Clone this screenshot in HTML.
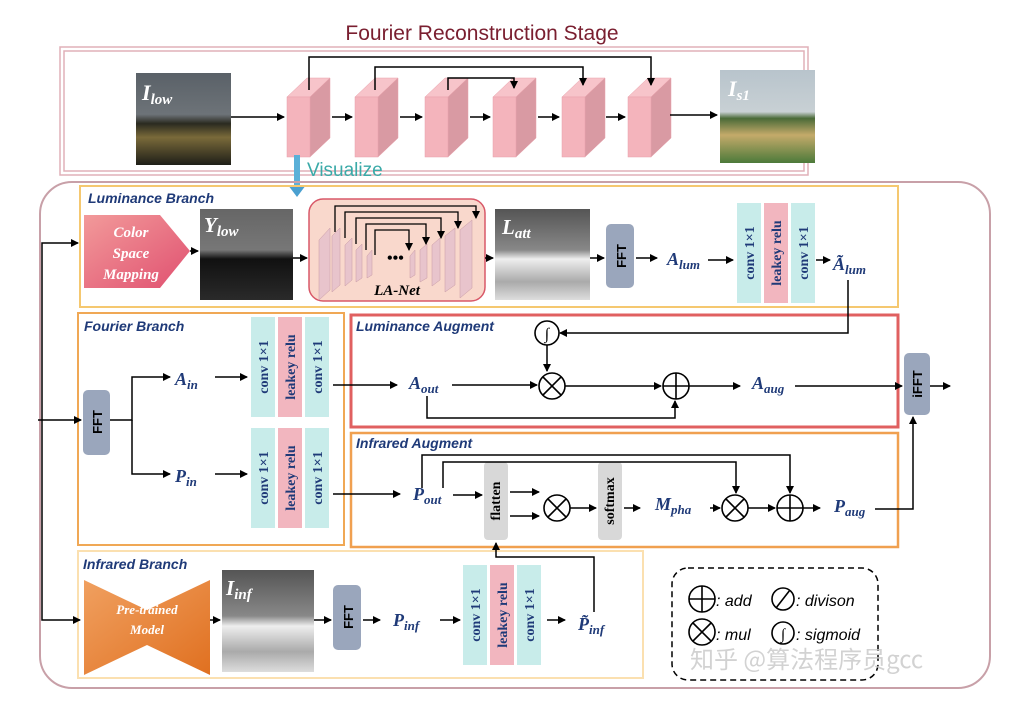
<!DOCTYPE html>
<html><head><meta charset="utf-8"><style>
body{margin:0;background:#fff;}
svg{display:block;font-family:"Liberation Serif",serif;}
.t{font-style:italic;font-weight:bold;fill:#1f3a78;}
.h{font-family:"Liberation Sans",sans-serif;font-style:italic;font-weight:bold;fill:#1f3a78;font-size:14px;}
.c{font-weight:bold;fill:#1f3a78;font-size:14px;}
</style></head><body>
<svg width="1010" height="702" viewBox="0 0 1010 702">
<defs>
<marker id="a" markerWidth="8" markerHeight="8" refX="7" refY="4" orient="auto" markerUnits="userSpaceOnUse"><path d="M0,0 L8,4 L0,8 z" fill="#000"/></marker>
<linearGradient id="sky" x1="0" y1="0" x2="0" y2="1"><stop offset="0" stop-color="#5a6168"/><stop offset="0.45" stop-color="#6d7378"/><stop offset="0.55" stop-color="#2a2a20"/><stop offset="0.7" stop-color="#7a6a3a"/><stop offset="1" stop-color="#1e1e18"/></linearGradient>
<linearGradient id="sky2" x1="0" y1="0" x2="0" y2="1"><stop offset="0" stop-color="#b8c4cc"/><stop offset="0.45" stop-color="#c8d0d4"/><stop offset="0.52" stop-color="#4a6a38"/><stop offset="0.7" stop-color="#c4aa6a"/><stop offset="1" stop-color="#4c7a3a"/></linearGradient>
<linearGradient id="gy" x1="0" y1="0" x2="0" y2="1"><stop offset="0" stop-color="#666"/><stop offset="0.45" stop-color="#777"/><stop offset="0.55" stop-color="#111"/><stop offset="1" stop-color="#2a2a2a"/></linearGradient>
<linearGradient id="la" x1="0" y1="0" x2="0" y2="1"><stop offset="0" stop-color="#555"/><stop offset="0.45" stop-color="#888"/><stop offset="0.55" stop-color="#eee"/><stop offset="0.8" stop-color="#aaa"/><stop offset="1" stop-color="#ddd"/></linearGradient>
<linearGradient id="pink" x1="0" y1="0" x2="1" y2="1"><stop offset="0" stop-color="#f29a9a"/><stop offset="1" stop-color="#e05070"/></linearGradient>
<linearGradient id="org" x1="0" y1="0" x2="1" y2="1"><stop offset="0" stop-color="#f0a060"/><stop offset="1" stop-color="#e07020"/></linearGradient>
</defs>

<text x="482" y="40" text-anchor="middle" font-family="Liberation Sans,sans-serif" font-size="21" fill="#7a1f30">Fourier Reconstruction Stage</text>
<rect x="60" y="47" width="748" height="128" fill="none" stroke="#e0b0b8" stroke-width="1.5"/>
<rect x="64" y="51" width="740" height="120" fill="none" stroke="#e0b0b8" stroke-width="1.5"/>

<rect x="136" y="73" width="95" height="92" fill="url(#sky)"/>
<text x="142" y="100" fill="#fff" font-size="22" font-style="italic" font-weight="bold">I<tspan font-size="15" dy="4">low</tspan></text>
<rect x="720" y="70" width="95" height="93" fill="url(#sky2)"/>
<text x="728" y="96" fill="#fff" font-size="22" font-style="italic" font-weight="bold">I<tspan font-size="15" dy="4">s1</tspan></text>

<g fill="#f4b4bc" stroke="#e8a0aa" stroke-width="0.5">
<g id="blk"><path d="M287,97 L307,78 L330,78 L310,97z" fill="#f7c4ca"/><path d="M310,97 L330,78 L330,138 L310,157z" fill="#d99aa3"/><rect x="287" y="97" width="23" height="60"/></g>
<use href="#blk" x="68"/><use href="#blk" x="138"/><use href="#blk" x="206"/><use href="#blk" x="275"/><use href="#blk" x="341"/>
</g>
<g stroke="#000" stroke-width="1.5" fill="none">
<line x1="231" y1="117" x2="284" y2="117" marker-end="url(#a)"/>
<line x1="332" y1="117" x2="352" y2="117" marker-end="url(#a)"/>
<line x1="400" y1="117" x2="422" y2="117" marker-end="url(#a)"/>
<line x1="470" y1="117" x2="490" y2="117" marker-end="url(#a)"/>
<line x1="538" y1="117" x2="559" y2="117" marker-end="url(#a)"/>
<line x1="606" y1="117" x2="625" y2="117" marker-end="url(#a)"/>
<line x1="670" y1="115" x2="717" y2="115" marker-end="url(#a)"/>
<path d="M309,90 V57 H651 V85" marker-end="url(#a)"/>
<path d="M375,90 V67 H583 V85" marker-end="url(#a)"/>
<path d="M448,90 V78 H514 V88" marker-end="url(#a)"/>
</g>
<rect x="294" y="155" width="6" height="30" fill="#5ab0d8"/><path d="M288,185 L306,185 L297,197z" fill="#4aa0d0"/>
<text x="307" y="176" font-family="Liberation Sans,sans-serif" font-size="19" fill="#3aaaa8">Visualize</text>

<rect x="40" y="182" width="950" height="506" rx="32" fill="none" stroke="#c8a0a8" stroke-width="2"/>

<rect x="80" y="186" width="818" height="121" fill="none" stroke="#f5c870" stroke-width="2"/>
<text x="88" y="203" class="h">Luminance Branch</text>
<path d="M84,215 L160,215 L190,251 L160,288 L84,288z" fill="url(#pink)"/>
<text x="131" y="237" text-anchor="middle" fill="#fff" font-size="15" font-style="italic" font-weight="bold">Color</text>
<text x="131" y="258" text-anchor="middle" fill="#fff" font-size="15" font-style="italic" font-weight="bold">Space</text>
<text x="131" y="279" text-anchor="middle" fill="#fff" font-size="15" font-style="italic" font-weight="bold">Mapping</text>
<rect x="200" y="209" width="93" height="91" fill="url(#gy)"/>
<text x="204" y="232" fill="#fff" font-size="21" font-style="italic" font-weight="bold">Y<tspan font-size="15" dy="4">low</tspan></text>
<rect x="309" y="199" width="176" height="102" rx="14" fill="#f9d8cc" stroke="#d85868" stroke-width="1.5"/>
<g fill="#e8c4cc" stroke="#c89aa4" stroke-width="0.5">
<path d="M319,240 L330,228 L330,290 L319,300z"/><path d="M332,236 L340,228 L340,285 L332,292z"/><path d="M345,245 L352,238 L352,280 L345,286z"/><path d="M356,250 L362,244 L362,278 L356,282z"/><path d="M367,256 L372,250 L372,275 L367,278z"/>
<path d="M410,256 L415,250 L415,275 L410,278z"/><path d="M420,250 L427,244 L427,278 L420,282z"/><path d="M432,245 L440,238 L440,280 L432,286z"/><path d="M445,236 L455,228 L455,285 L445,292z"/><path d="M460,230 L472,220 L472,288 L460,298z"/>
</g>
<text x="387" y="263" font-size="16" font-weight="bold">•••</text>
<g stroke="#000" stroke-width="1.3" fill="none">
<path d="M335,232 V206 H476 V218" marker-end="url(#a)"/>
<path d="M345,238 V212 H458 V228" marker-end="url(#a)"/>
<path d="M356,244 V218 H441 V238" marker-end="url(#a)"/>
<path d="M366,250 V224 H426 V244" marker-end="url(#a)"/>
<path d="M375,255 V230 H409 V250" marker-end="url(#a)"/>
</g>
<text x="397" y="295" text-anchor="middle" font-size="15" font-style="italic" font-weight="bold">LA-Net</text>
<rect x="495" y="209" width="95" height="91" fill="url(#la)"/>
<text x="502" y="234" fill="#fff" font-size="21" font-style="italic" font-weight="bold">L<tspan font-size="15" dy="4">att</tspan></text>
<rect x="606" y="224" width="28" height="64" rx="5" fill="#9aa6bc"/>
<text transform="translate(626,256) rotate(-90)" text-anchor="middle" font-family="Liberation Sans,sans-serif" font-weight="bold" font-size="13">FFT</text>
<text x="667" y="265" class="t" font-size="18">A<tspan font-size="13" dy="4">lum</tspan></text>
<g id="cv">
<rect x="737" y="203" width="24" height="100" fill="#c8ecea"/><rect x="764" y="203" width="24" height="100" fill="#f2b6bf"/><rect x="791" y="203" width="24" height="100" fill="#c8ecea"/>
<text transform="translate(754,253) rotate(-90)" text-anchor="middle" class="c">conv 1×1</text>
<text transform="translate(781,253) rotate(-90)" text-anchor="middle" class="c">leakey relu</text>
<text transform="translate(808,253) rotate(-90)" text-anchor="middle" class="c">conv 1×1</text>
</g>
<text x="833" y="270" class="t" font-size="18">Ã<tspan font-size="13" dy="4">lum</tspan></text>

<rect x="78" y="313" width="266" height="232" fill="none" stroke="#f0a855" stroke-width="2"/>
<text x="84" y="331" class="h">Fourier Branch</text>
<rect x="83" y="390" width="27" height="65" rx="5" fill="#9aa6bc"/>
<text transform="translate(102,422) rotate(-90)" text-anchor="middle" font-family="Liberation Sans,sans-serif" font-weight="bold" font-size="13">FFT</text>
<text x="175" y="385" class="t" font-size="18">A<tspan font-size="13" dy="4">in</tspan></text>
<text x="175" y="482" class="t" font-size="18">P<tspan font-size="13" dy="4">in</tspan></text>
<use href="#cv" x="-486" y="114"/>
<use href="#cv" x="-486" y="225"/>

<rect x="351" y="315" width="547" height="112" fill="none" stroke="#e06060" stroke-width="3"/>
<text x="356" y="331" class="h">Luminance Augment</text>
<text x="409" y="389" class="t" font-size="18">A<tspan font-size="13" dy="4">out</tspan></text>
<text x="752" y="389" class="t" font-size="18">A<tspan font-size="13" dy="4">aug</tspan></text>
<rect x="351" y="433" width="547" height="114" fill="none" stroke="#f0a050" stroke-width="2.5"/>
<text x="356" y="448" class="h">Infrared Augment</text>
<text x="413" y="500" class="t" font-size="18">P<tspan font-size="13" dy="4">out</tspan></text>
<rect x="484" y="462" width="24" height="78" rx="4" fill="#d8d8d8"/>
<text transform="translate(500,501) rotate(-90)" text-anchor="middle" font-weight="bold" font-size="14">flatten</text>
<rect x="598" y="462" width="24" height="78" rx="4" fill="#d8d8d8"/>
<text transform="translate(614,501) rotate(-90)" text-anchor="middle" font-weight="bold" font-size="14">softmax</text>
<text x="655" y="510" class="t" font-size="18">M<tspan font-size="13" dy="4">pha</tspan></text>
<text x="834" y="512" class="t" font-size="18">P<tspan font-size="13" dy="4">aug</tspan></text>
<rect x="904" y="353" width="26" height="62" rx="5" fill="#9aa6bc"/>
<text transform="translate(922,384) rotate(-90)" text-anchor="middle" font-family="Liberation Sans,sans-serif" font-weight="bold" font-size="13">iFFT</text>

<rect x="78" y="551" width="565" height="127" fill="none" stroke="#fbe0b0" stroke-width="2"/>
<text x="83" y="569" class="h">Infrared Branch</text>
<path d="M84,580 L147,610 L210,580 L210,675 L147,645 L84,675z" fill="url(#org)"/>
<text x="147" y="614" text-anchor="middle" fill="#fff" font-size="13" font-style="italic" font-weight="bold">Pre-trained</text>
<text x="147" y="634" text-anchor="middle" fill="#fff" font-size="13" font-style="italic" font-weight="bold">Model</text>
<rect x="222" y="570" width="92" height="102" fill="url(#la)"/>
<text x="226" y="595" fill="#fff" font-size="21" font-style="italic" font-weight="bold">I<tspan font-size="15" dy="4">inf</tspan></text>
<rect x="333" y="585" width="28" height="65" rx="5" fill="#9aa6bc"/>
<text transform="translate(353,617) rotate(-90)" text-anchor="middle" font-family="Liberation Sans,sans-serif" font-weight="bold" font-size="13">FFT</text>
<text x="393" y="626" class="t" font-size="18">P<tspan font-size="13" dy="4">inf</tspan></text>
<use href="#cv" x="-274" y="362"/>
<text x="578" y="630" class="t" font-size="18">P̃<tspan font-size="13" dy="4">inf</tspan></text>

<rect x="672" y="568" width="206" height="112" rx="16" fill="none" stroke="#000" stroke-width="1.5" stroke-dasharray="6,4"/>
<g font-family="Liberation Sans,sans-serif" font-style="italic" font-size="16">
<text x="716" y="606">: add</text><text x="796" y="606">: divison</text>
<text x="716" y="640">: mul</text><text x="796" y="640">: sigmoid</text>
</g>

<g stroke="#000" stroke-width="1.6" fill="#fff">
<circle cx="547" cy="333" r="12"/>
<g id="mul"><circle cx="552" cy="386" r="13"/><path d="M543,377 L561,395 M561,377 L543,395"/></g>
<g id="add"><circle cx="676" cy="386" r="13"/><path d="M663,386 H689 M676,373 V399"/></g>
<use href="#mul" x="5" y="122"/><use href="#mul" x="183" y="122"/><use href="#add" x="114" y="122"/>
<use href="#add" x="26" y="213"/><use href="#mul" x="150" y="246"/>
<circle cx="783" cy="599" r="11"/><path d="M776,608 L790,590" fill="none"/>
<circle cx="783" cy="633" r="11"/>
</g>
<text x="547" y="339" text-anchor="middle" font-size="16">∫</text>
<text x="783" y="639" text-anchor="middle" font-size="15">∫</text>

<g stroke="#000" stroke-width="1.5" fill="none">
<line x1="190" y1="251" x2="198" y2="251" marker-end="url(#a)"/>
<line x1="293" y1="258" x2="307" y2="258" marker-end="url(#a)"/>
<line x1="485" y1="258" x2="493" y2="258" marker-end="url(#a)"/>
<line x1="590" y1="258" x2="604" y2="258" marker-end="url(#a)"/>
<line x1="636" y1="258" x2="657" y2="258" marker-end="url(#a)"/>
<line x1="708" y1="260" x2="733" y2="260" marker-end="url(#a)"/>
<line x1="816" y1="260" x2="830" y2="260" marker-end="url(#a)"/>
<path d="M848,280 V333 H560" marker-end="url(#a)"/>
<line x1="547" y1="345" x2="547" y2="371" marker-end="url(#a)"/>
<path d="M42,420 V243 H78" marker-end="url(#a)"/>
<path d="M42,420 V620 H80" marker-end="url(#a)"/>
<line x1="38" y1="420" x2="81" y2="420" marker-end="url(#a)"/>
<path d="M110,420 H132 V377 H170" marker-end="url(#a)"/>
<path d="M132,420 V474 H170" marker-end="url(#a)"/>
<line x1="215" y1="377" x2="247" y2="377" marker-end="url(#a)"/>
<line x1="215" y1="474" x2="247" y2="474" marker-end="url(#a)"/>
<line x1="333" y1="385" x2="397" y2="385" marker-end="url(#a)"/>
<line x1="333" y1="494" x2="400" y2="494" marker-end="url(#a)"/>
<line x1="452" y1="385" x2="537" y2="385" marker-end="url(#a)"/>
<line x1="565" y1="386" x2="661" y2="386" marker-end="url(#a)"/>
<path d="M427,396 V418 H675 V401" marker-end="url(#a)"/>
<line x1="689" y1="386" x2="740" y2="386" marker-end="url(#a)"/>
<line x1="795" y1="386" x2="902" y2="386" marker-end="url(#a)"/>
<line x1="930" y1="386" x2="950" y2="386" marker-end="url(#a)"/>
<path d="M875,509 H913 V417" marker-end="url(#a)"/>
<line x1="453" y1="495" x2="482" y2="495" marker-end="url(#a)"/>
<line x1="510" y1="492" x2="539" y2="492" marker-end="url(#a)"/>
<line x1="510" y1="516" x2="539" y2="516" marker-end="url(#a)"/>
<line x1="570" y1="508" x2="596" y2="508" marker-end="url(#a)"/>
<line x1="624" y1="508" x2="640" y2="508" marker-end="url(#a)"/>
<line x1="710" y1="508" x2="720" y2="508" marker-end="url(#a)"/>
<line x1="748" y1="508" x2="775" y2="508" marker-end="url(#a)"/>
<line x1="803" y1="508" x2="820" y2="508" marker-end="url(#a)"/>
<path d="M422,488 V455 H790 V493" marker-end="url(#a)"/>
<path d="M443,488 V462 H736 V493" marker-end="url(#a)"/>
<path d="M594,612 V557 H496 V543" marker-end="url(#a)"/>
<line x1="210" y1="620" x2="220" y2="620" marker-end="url(#a)"/>
<line x1="314" y1="620" x2="331" y2="620" marker-end="url(#a)"/>
<line x1="363" y1="620" x2="380" y2="620" marker-end="url(#a)"/>
<line x1="440" y1="620" x2="460" y2="620" marker-end="url(#a)"/>
<line x1="547" y1="620" x2="565" y2="620" marker-end="url(#a)"/>
</g>
<text x="690" y="668" font-family="Noto Sans CJK SC,sans-serif" font-size="24" fill="#c8c8c8" opacity="0.8">知乎 @算法程序员gcc</text>
</svg>
</body></html>
